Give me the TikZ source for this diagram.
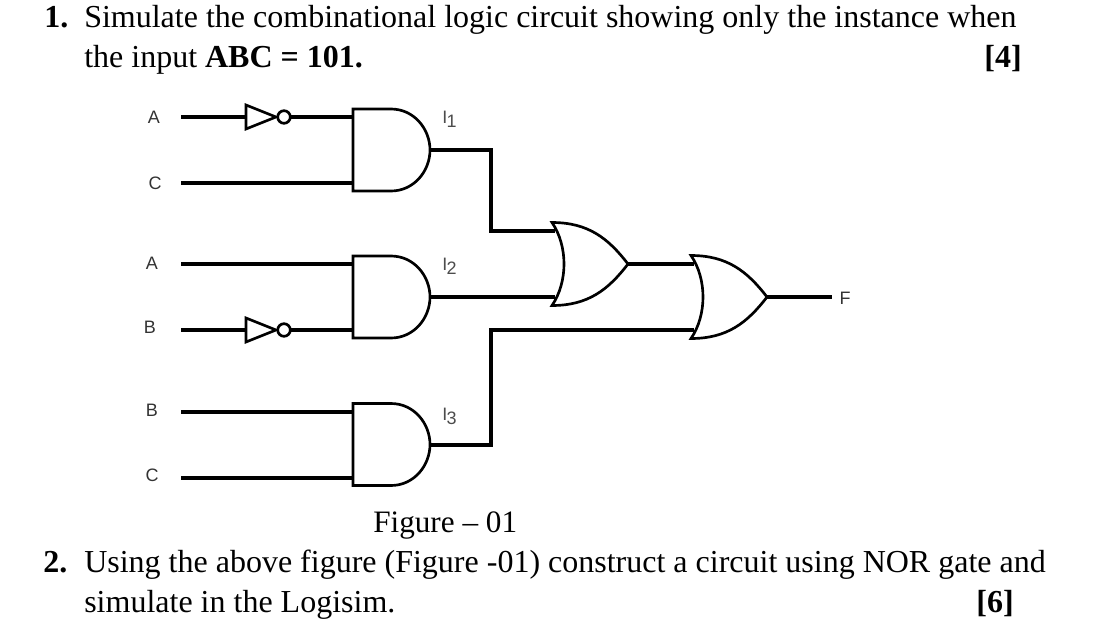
\documentclass[tikz,border=0pt]{standalone}
\usepackage{fontspec}
\setmainfont{Liberation Serif}
\newfontfamily\lblfont{Liberation Sans}
\tikzset{
  wire/.style={line width=3pt,line cap=butt,line join=miter},
  gateline/.style={line width=2pt,line join=miter,fill=white},
  txt/.style={anchor=base west,inner sep=0pt,font=\fontsize{24}{28}\selectfont},
  figtxt/.style={anchor=base west,inner sep=0pt,font=\fontsize{23.4}{28}\selectfont},
  boldtxt/.style={anchor=base west,inner sep=0pt,font=\fontsize{24}{28}\selectfont\bfseries},
  mark4/.style={anchor=base east,inner sep=0pt,font=\fontsize{24}{28}\selectfont\bfseries},
  lbl/.style={inner sep=0pt,font=\lblfont\fontsize{13.5}{15}\selectfont,text=black!80},
  ilbl/.style={inner sep=0pt,anchor=base west,font=\lblfont\fontsize{13.5}{15}\selectfont,text=black!70},
}
\newcommand{\isub}[1]{I\kern-0.5pt\raisebox{-0.45ex}{#1}}
% name, mid y: AND gate with pins name-a, name-b, name-o
\newcommand{\andgate}[2]{%
  \coordinate (#1-a) at (353,{-(#2)+33});
  \coordinate (#1-b) at (353,{-(#2)-33});
  \coordinate (#1-o) at (430,{-(#2)});
  \draw[gateline] (353,{-(#2)+41}) -- (391,{-(#2)+41})
    .. controls (414,{-(#2)+41}) and (430,{-(#2)+21}) .. (430,{-(#2)})
    .. controls (430,{-(#2)-21}) and (414,{-(#2)-41}) .. (391,{-(#2)-41})
    -- (353,{-(#2)-41}) -- cycle;
}
% name, tip x, mid y: OR gate
\newcommand{\orgate}[3]{%
  \coordinate (#1-a) at ({(#2)-73},{-(#3)+33});
  \coordinate (#1-b) at ({(#2)-73},{-(#3)-33});
  \coordinate (#1-o) at ({#2},{-(#3)});
  \draw[gateline] ({(#2)-76},{-(#3)+41.5})
    .. controls ({(#2)-40},{-(#3)+41.5}) and ({(#2)-20},{-(#3)+26}) .. ({#2},{-(#3)})
    .. controls ({(#2)-20},{-(#3)-26}) and ({(#2)-40},{-(#3)-41.5}) .. ({(#2)-76},{-(#3)-41.5})
    .. controls ({(#2)-60},{-(#3)-18}) and ({(#2)-60},{-(#3)+18}) .. cycle;
}
% name, y: inverter with pins name-i, name-o
\newcommand{\notgate}[2]{%
  \coordinate (#1-i) at (246,{-(#2)});
  \coordinate (#1-o) at (291,{-(#2)});
  \draw[gateline] (246,{-(#2)+12}) -- (276,{-(#2)}) -- (246,{-(#2)-12}) -- cycle;
  \draw[gateline] (284,{-(#2)}) circle (6.3);
}
\begin{document}
\begin{tikzpicture}[x=0.75pt,y=0.75pt]
\useasboundingbox (0,0) rectangle (1115,-625);
% question text
\node[boldtxt] (n1) at (44,-27) {1.};
\node[txt] (q1a) at (84,-27) {Simulate the combinational logic circuit showing only the instance when};
\node[txt] (q1b) at (84,-67) {the input \textbf{ABC = 101.}};
\node[mark4] (m4) at (1022,-67) {[4]};
\node[figtxt] (figcap) at (373,-532) {Figure – 01};
\node[boldtxt] (n2) at (43,-572) {2.};
\node[txt] (q2a) at (84,-572) {Using the above figure (Figure -01) construct a circuit using NOR gate and};
\node[txt] (q2b) at (84,-612) {simulate in the Logisim.};
\node[mark4] (m6) at (1014,-612) {[6]};
% input labels
\node[lbl] (la1) at (154,-117) {A};
\node[lbl] (lc1) at (155,-183) {C};
\node[lbl] (la2) at (152,-263) {A};
\node[lbl] (lb1) at (150,-327) {B};
\node[lbl] (lb2) at (152,-410) {B};
\node[lbl] (lc2) at (152,-475) {C};
\node[lbl] (lf) at (845,-298) {F};
\node[ilbl] (i1) at (442,-123) {\isub{1}};
\node[ilbl] (i2) at (442,-270) {\isub{2}};
\node[ilbl] (i3) at (442,-420) {\isub{3}};
% free wire ends
\coordinate (sa1) at (181,-117);
\coordinate (sc1) at (181,-183);
\coordinate (sa2) at (181,-264);
\coordinate (sb1) at (181,-330);
\coordinate (sb2) at (181,-411.5);
\coordinate (sc2) at (181,-477.5);
\coordinate (out) at (832,-297);
\coordinate (bus1) at (491,-150);
\coordinate (bus3) at (491,-444.5);
% gates
\andgate{g1}{150}
\andgate{g2}{297}
\andgate{g3}{444.5}
\notgate{n1g}{117}
\notgate{n2g}{330}
\orgate{o1}{628}{264}
\orgate{o2}{767}{297}
% wires
\draw[wire] (sa1) -- (n1g-i);
\draw[wire] (n1g-o) -- (g1-a);
\draw[wire] (sc1) -- (g1-b);
\draw[wire] (sa2) -- (g2-a);
\draw[wire] (sb1) -- (n2g-i);
\draw[wire] (n2g-o) -- (g2-b);
\draw[wire] (sb2) -- (g3-a);
\draw[wire] (sc2) -- (g3-b);
\draw[wire] (g1-o) -- (bus1) |- (o1-a);
\draw[wire] (g2-o) -- (o1-b);
\draw[wire] (g3-o) -- (bus3) |- (o2-b);
\draw[wire] (o1-o) -- (o2-a);
\draw[wire] (o2-o) -- (out);
\end{tikzpicture}
\end{document}
